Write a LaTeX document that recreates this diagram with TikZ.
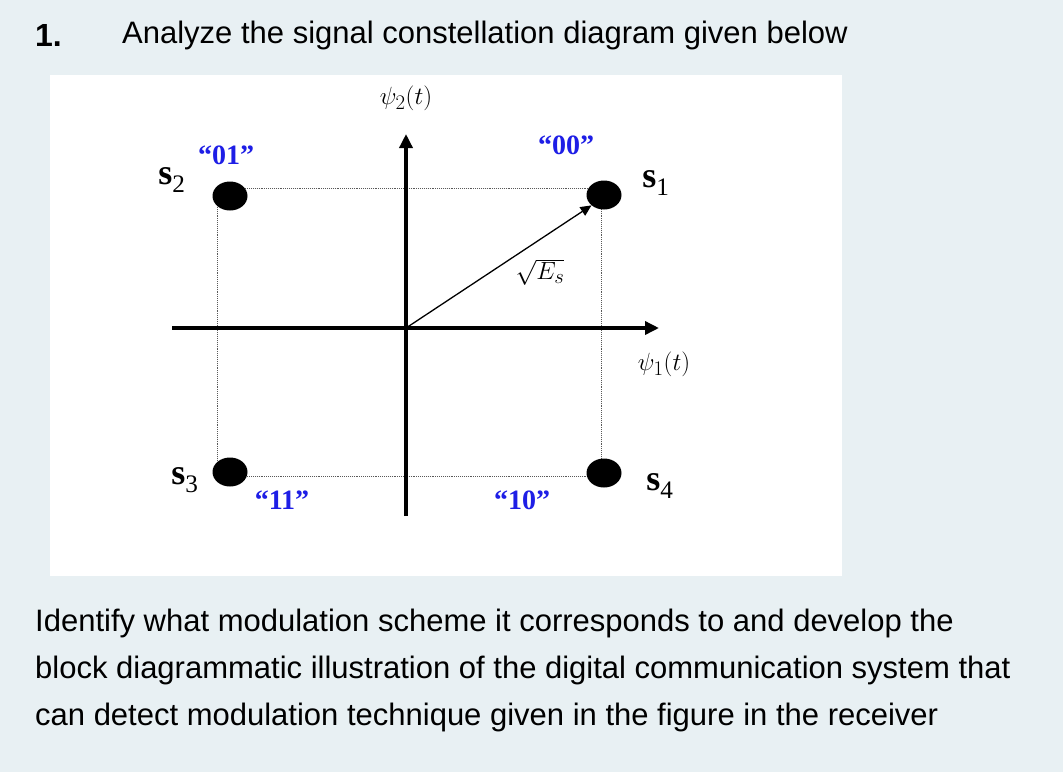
\documentclass[tikz,border=0pt]{standalone}
\usepackage{fontspec}
\setmainfont{Liberation Serif}
\newfontfamily\sans{Liberation Sans}
\usetikzlibrary{arrows.meta,shapes.geometric}
\definecolor{bg}{HTML}{E8F0F3}
\definecolor{lblue}{HTML}{1E1EE6}
\begin{document}
\begin{tikzpicture}[x=1pt,y=-1pt,
  txt/.style={font=\sans\fontsize{31}{34}\selectfont,anchor=west,inner sep=0},
  dot/.style={ellipse,fill=black,minimum width=35,minimum height=29,inner sep=0},
  bits/.style={text=lblue,font=\bfseries\fontsize{28}{30}\selectfont,inner sep=0},
  slab/.style={font=\fontsize{36}{38}\selectfont,inner sep=0},
  ax/.style={line width=3.4pt,-{Triangle[length=14,width=13]}},
  guide/.style={densely dotted,gray!70!black,line width=0.9pt}]
\fill[bg] (0,0) rectangle (1063,772);
\useasboundingbox (0,0) rectangle (1063,772);
\fill[white] (50,75) rectangle (842,576);
\node[txt,font=\sans\bfseries\fontsize{32}{34}\selectfont] (num) at (35,35) {1.};
\node[txt] (title) at (122,35) {Analyze the signal constellation diagram given below};
\node[txt] (l1) at (35,623) {Identify what modulation scheme it corresponds to and develop the};
\node[txt] (l2) at (35,670) {block diagrammatic illustration of the digital communication system that};
\node[txt] (l3) at (35,717) {can detect modulation technique given in the figure in the receiver};
% axes
\coordinate (o) at (406,328);
\coordinate (yb) at (406,516);
\coordinate (yt) at (406,134);
\coordinate (xl) at (172,328);
\coordinate (xr) at (659,328);
% guides
\draw[guide] (232,188) -- (600,188);
\draw[guide] (232,476) -- (600,476);
\draw[guide] (217,205) -- (217,465);
\draw[guide] (601,205) -- (601,465);
\draw[ax] (yb) -- (yt);
\draw[ax] (xl) -- (xr);
\node[dot] (s1) at (604,195) {};
\node[dot] (s2) at (230,196) {};
\node[dot] (s3) at (230,472) {};
\node[dot] (s4) at (604,473) {};
\draw[line width=1.3pt,-{Triangle[length=11,width=10]}] (o) -- (s1.south west);
\node[font=\fontsize{28}{30}\selectfont] (es) at (540,272) {$\sqrt{E_s}$};
\node[font=\fontsize{31}{33}\selectfont] (p2) at (406,98) {$\psi_2(t)$};
\node[font=\fontsize{31}{33}\selectfont] (p1) at (664,364) {$\psi_1(t)$};
\node[bits] (b01) at (226,155) {“01”};
\node[bits] (b00) at (566,145) {“00”};
\node[bits] (b11) at (282,500) {“11”};
\node[bits] (b10) at (522,500) {“10”};
\node[slab] (S1) at (656,183) {\textbf{s}$_{\mathrm{1}}$};
\node[slab] (S2) at (172,180) {\textbf{s}$_{\mathrm{2}}$};
\node[slab] (S3) at (185,480) {\textbf{s}$_{\mathrm{3}}$};
\node[slab] (S4) at (660,486) {\textbf{s}$_{\mathrm{4}}$};
\end{tikzpicture}
\end{document}
